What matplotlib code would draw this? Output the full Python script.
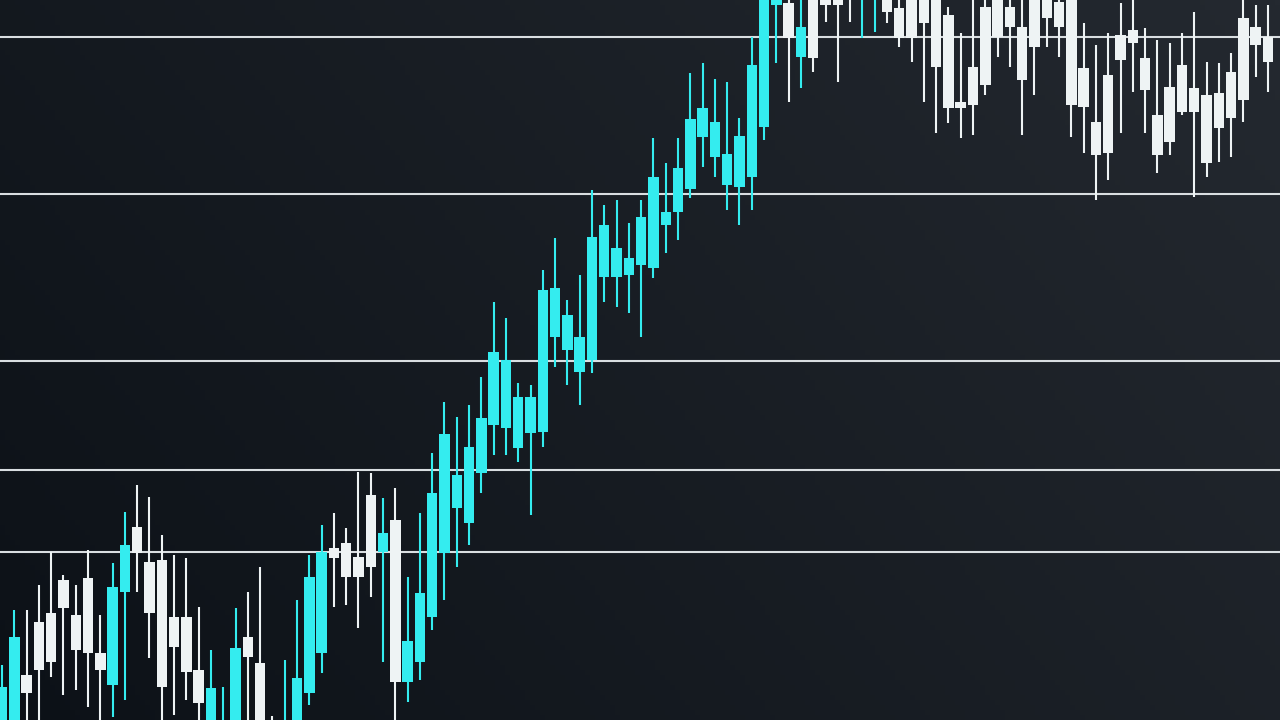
#!/usr/bin/env python
# -*- coding: utf-8 -*-
"""Dark candlestick chart with horizontal price levels."""

import matplotlib
matplotlib.use("Agg")
import matplotlib.pyplot as pyplot
import numpy
import pandas

## Config

X_IN = 12.8
Y_IN = 7.2

UP_COLOR = "#34ecef"
DOWN_COLOR = "#eef3f4"
LEVEL_COLOR = "#d9dee1"

## Data (price units)

high = [55, 110, 110, 135, 168, 145, 135, 170, 105, 157,
        208, 235, 223, 185, 165, 162, 113, 70, 33, 112,
        128, 153, 4, 60, 120, 165, 195, 207, 192, 248,
        247, 222, 232, 143, 207, 267, 318, 303, 315, 343,
        418, 402, 337, 335, 450, 482, 420, 445, 530, 515,
        520, 497, 520, 582, 557, 582, 647, 657, 641, 638,
        602, 683, 740, 750, 730, 730, 735, 750, 740, 750,
        750, 750, 735, 725, 740, 740, 740, 713, 687, 725,
        725, 735, 725, 725, 735, 735, 725, 735, 697, 675,
        687, 717, 725, 692, 680, 677, 687, 708, 658, 657,
        667, 725, 715, 715]
low = [-20, -20, -20, -15, 43, 25, 30, 13, -10, 3,
       20, 128, 62, -10, 5, 20, -10, -20, -25, -20,
       -10, -20, -30, -30, -20, 15, 47, 113, 115, 92,
       123, 58, 0, 18, 40, 90, 120, 153, 175, 227,
       265, 265, 258, 205, 273, 353, 335, 315, 347, 418,
       413, 407, 383, 442, 467, 480, 522, 553, 543, 510,
       495, 510, 580, 657, 618, 632, 648, 698, 638, 698,
       682, 688, 697, 673, 658, 618, 587, 597, 582, 585,
       625, 663, 653, 585, 625, 673, 663, 583, 567, 520,
       540, 587, 628, 587, 547, 565, 605, 523, 543, 558,
       563, 598, 643, 628]
open_ = [-5, -5, 45, 98, 107, 140, 105, 142, 67, 35,
         128, 193, 158, 160, 103, 103, 50, -10, -15, -10,
         83, 57, -10, -20, -10, 27, 67, 172, 177, 163,
         225, 168, 200, 38, 58, 103, 167, 212, 197, 247,
         295, 292, 272, 287, 288, 383, 370, 348, 360, 443,
         443, 445, 455, 452, 495, 508, 531, 583, 563, 535,
         533, 543, 593, 715, 717, 663, 725, 740, 730, 740,
         725, 725, 725, 712, 730, 730, 730, 705, 618, 653,
         713, 725, 713, 693, 725, 725, 718, 725, 652, 598,
         645, 685, 690, 662, 605, 633, 655, 632, 625, 627,
         648, 702, 693, 683]
close = [33, 83, 27, 50, 58, 112, 70, 67, 50, 133,
         175, 167, 107, 33, 73, 48, 17, 32, 0, 72,
         63, -10, -25, -5, 42, 143, 168, 162, 143, 143,
         153, 187, 38, 79, 127, 227, 286, 245, 273, 302,
         368, 360, 323, 323, 430, 432, 405, 383, 483, 495,
         472, 462, 503, 543, 508, 552, 601, 612, 598, 566,
         584, 655, 730, 740, 682, 693, 662, 715, 715, 720,
         740, 740, 708, 682, 682, 697, 653, 612, 612, 615,
         635, 683, 693, 640, 673, 702, 693, 615, 613, 565,
         567, 660, 677, 630, 565, 578, 608, 608, 557, 592,
         602, 620, 675, 658]

levels = [683, 526, 359, 250, 168]

## Main

candles = pandas.DataFrame({"high": high, "low": low, "open": open_, "close": close})
candles["x"] = numpy.arange(len(candles))
candles["up"] = candles["close"] >= candles["open"]
colors = numpy.where(candles["up"], UP_COLOR, DOWN_COLOR)

fig = pyplot.figure(figsize=(X_IN, Y_IN), dpi=100)
ax = fig.add_axes([0, 0, 1, 1])
ax.set_axis_off()

# Background gradient: darker left/top, lighter right
gx = numpy.linspace(0, 1, 256)
gy = numpy.linspace(0, 1, 144)
GX, GY = numpy.meshgrid(gx, gy)
shade = 0.55 * GX + 0.25 * GY
dark = numpy.array([12, 17, 23]) / 255.0
light = numpy.array([36, 41, 48]) / 255.0
bg = dark + (light - dark) * shade[..., None] / shade.max()
ax.imshow(bg, extent=[0, 1, 0, 1], transform=ax.transAxes, aspect="auto", zorder=0, origin="lower")

# Price levels
for level in levels:
    ax.axhline(y=level, color=LEVEL_COLOR, linewidth=1.5, zorder=1)

# Wicks
ax.vlines(candles["x"], candles["low"], candles["high"], colors=colors, linewidth=1.5, zorder=2)

# Bodies
body_low = candles[["open", "close"]].min(axis=1)
body_height = (candles["close"] - candles["open"]).abs().clip(lower=3)
ax.bar(candles["x"], body_height, bottom=body_low, width=0.85, color=colors, linewidth=0, zorder=3)

step = 1266 / (len(candles) - 1)
ax.set_xlim(-2 / step, len(candles) - 1 + 12 / step)
ax.set_ylim(0, 720)

fig.savefig("out.png", dpi=100)
